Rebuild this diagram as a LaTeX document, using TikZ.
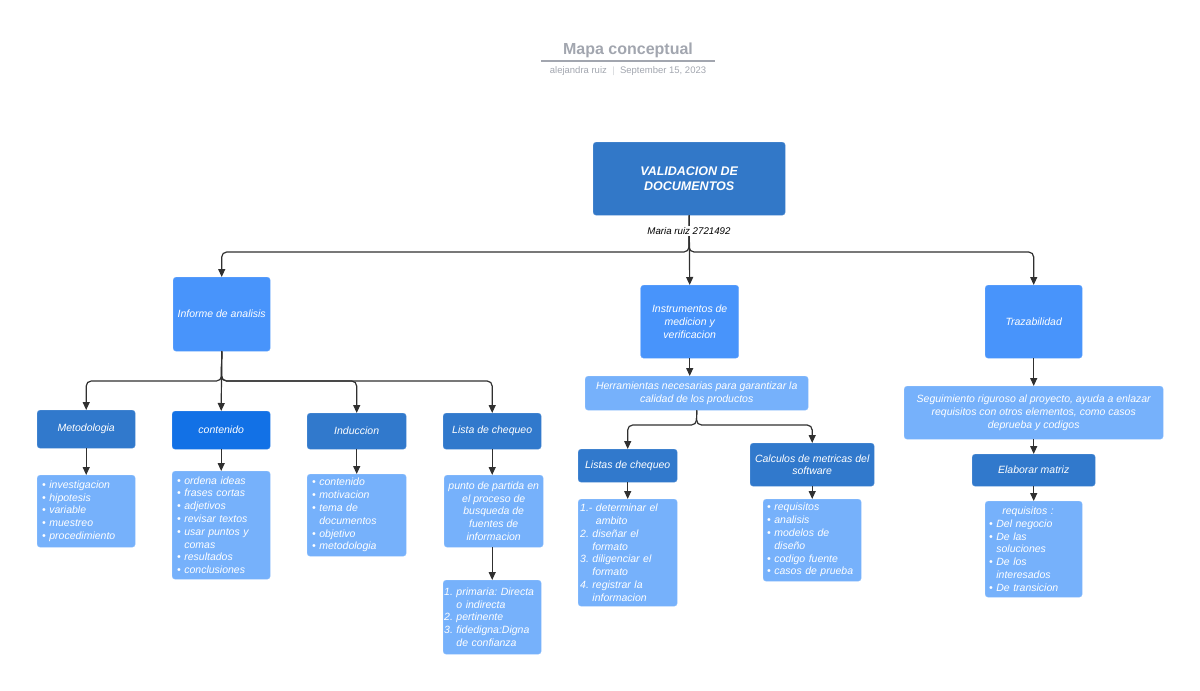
\documentclass[tikz,border=0pt]{standalone}
\usepackage{fontspec}
\setmainfont{Liberation Sans}
\usetikzlibrary{arrows.meta}
\definecolor{titlegray}{HTML}{A2A6AF}
\definecolor{mainblue}{HTML}{3278C8}
\definecolor{midblue}{HTML}{4894FB}
\definecolor{darkblue}{HTML}{3179CC}
\definecolor{strongblue}{HTML}{1271E6}
\definecolor{lightblue}{HTML}{76B1FB}
\definecolor{linecol}{HTML}{303030}
\hyphenpenalty=10000
\exhyphenpenalty=10000
\newcommand\bl{\textbullet\ }
\newcommand\ct{\phantom{\textbullet\ }}
\tikzset{
  box/.style={rounded corners=3pt, inner sep=2pt, anchor=north west, text=white,
    font=\fontsize{10.5}{12.8}\selectfont\itshape, align=center},
  bmain/.style={box, fill=mainblue, draw=mainblue!80!white, font=\fontsize{12.5}{15}\selectfont\bfseries\itshape},
  bmid/.style={box, fill=midblue, draw=midblue!80!white},
  bdark/.style={box, fill=darkblue, draw=darkblue!80!white},
  bstrong/.style={box, fill=strongblue, draw=strongblue!80!white},
  blight/.style={box, fill=lightblue, draw=lightblue!80!white},
  lst/.style={blight, align=left, inner xsep=5pt, text width=#1},
  conn/.style={draw=linecol, line width=1.2pt, rounded corners=5pt, -{Triangle[length=8pt,width=7pt]}},
}
\begin{document}
\frenchspacing
\begin{tikzpicture}[x=1pt,y=-1pt]
\useasboundingbox (0,0) rectangle (1200,691);
% title
\node[text=titlegray, font=\fontsize{16}{18}\selectfont\bfseries] (title) at (628,50) {Mapa conceptual};
\draw[titlegray, line width=1.2pt] (541,61) -- (715,61);
\node[text=titlegray, font=\fontsize{9.5}{11}\selectfont] (sub) at (628,71) {alejandra ruiz \ $|$ \ September 15, 2023};

% main
\node[bmain, minimum width=192pt, minimum height=73pt] (main) at (593,142) {VALIDACION DE\\DOCUMENTOS};

% level 1
\node[bmid, minimum width=97pt, minimum height=74pt] (inf) at (173,277) {Informe de analisis};
\node[bmid, minimum width=98pt, minimum height=73pt] (ins) at (640.5,285) {Instrumentos de\\medicion y\\verificacion};
\node[bmid, minimum width=97pt, minimum height=73pt] (tra) at (985,285) {Trazabilidad};

% level 2 left
\node[bdark, minimum width=98pt, minimum height=38pt] (met) at (37,410) {Metodologia};
\node[bstrong, minimum width=98pt, minimum height=38pt] (con) at (172,411) {contenido};
\node[bdark, minimum width=99pt, minimum height=36pt] (ind) at (307,413) {Induccion};
\node[bdark, minimum width=98pt, minimum height=36pt] (lis) at (443,413) {Lista de chequeo};

\node[lst=88pt, minimum height=72pt] (metl) at (37,475) {\bl investigacion\\\bl hipotesis\\\bl variable\\\bl muestreo\\\bl procedimiento};
\node[lst=88pt, minimum height=108pt] (conl) at (172,471) {\bl ordena ideas\\\bl frases cortas\\\bl adjetivos\\\bl revisar textos\\\bl usar puntos y\\\ct comas\\\bl resultados\\\bl conclusiones};
\node[lst=89pt, minimum height=82pt] (indl) at (307,474) {\bl contenido\\\bl motivacion\\\bl tema de\\\ct documentos\\\bl objetivo\\\bl metodologia};
\node[blight, minimum width=99pt, minimum height=72pt] (lisl) at (444,475) {punto de partida en\\el proceso de\\busqueda de\\fuentes de\\informacion};
\node[lst=96pt, inner xsep=1pt, minimum height=74pt] (lis2) at (443,580) {1. primaria: Directa\\\phantom{1. }o indirecta\\2. pertinente\\3. fidedigna:Digna\\\phantom{3. }de confianza};

% middle
\node[blight, minimum width=223pt, minimum height=34pt] (her) at (585,376) {Herramientas necesarias para garantizar la\\calidad de los productos};
\node[bdark, minimum width=99pt, minimum height=33pt] (lch) at (578,449) {Listas de chequeo};
\node[bdark, minimum width=124pt, minimum height=43pt] (cal) at (750,443) {Calculos de metricas del\\software};
\node[lst=95pt, inner xsep=2pt, minimum height=107pt] (lchl) at (578,499) {1.- determinar el\\\phantom{1.- }ambito\\2. diseñar el\\\phantom{2. }formato\\3. diligenciar el\\\phantom{3. }formato\\4. registrar la\\\phantom{4. }informacion};
\node[lst=90pt, inner xsep=4pt, minimum height=82pt] (call) at (763,499) {\bl requisitos\\\bl analisis\\\bl modelos de\\\ct diseño\\\bl codigo fuente\\\bl casos de prueba};

% right
\node[blight, minimum width=259pt, minimum height=53pt] (seg) at (904,386) {Seguimiento riguroso al proyecto, ayuda a enlazar\\requisitos con otros elementos, como casos\\deprueba y codigos};
\node[bdark, minimum width=123pt, minimum height=32pt] (ela) at (972,454) {Elaborar matriz};
\node[lst=89pt, inner xsep=4pt, minimum height=96pt] (req) at (985,501) {\ct\hspace{6pt}requisitos :\\\bl Del negocio\\\bl De las\\\ct soluciones\\\bl De los\\\ct interesados\\\bl De transicion};

% connectors
\draw[conn] (main.south) -- (689,252) -| (inf.north);
\draw[conn] (main.south) -- (ins.north);
\draw[conn] (main.south) -- (689,252) -| (tra.north);
\node[fill=white, inner sep=1pt, font=\fontsize{9.7}{11}\selectfont\itshape] (lbl) at (689,231) {Maria ruiz 2721492};

\draw[conn] (inf.south) -- (221.5,381) -| (met.north);
\draw[conn] (inf.south) -- (con.north);
\draw[conn] (inf.south) -- (221.5,381) -| (ind.north);
\draw[conn] (inf.south) -- (221.5,381) -| (lis.north);

\draw[conn] (met.south) -- (met.south |- metl.north);
\draw[conn] (con.south) -- (con.south |- conl.north);
\draw[conn] (ind.south) -- (ind.south |- indl.north);
\draw[conn] (lis.south) -- (lis.south |- lisl.north);
\draw[conn] (lisl.south -| lis.south) -- (lis.south |- lis2.north);

\draw[conn] (ins.south) -- (ins.south |- her.north);
\draw[conn] (her.south) -- (696.5,425) -| (lch.north);
\draw[conn] (her.south) -- (696.5,425) -| (cal.north);
\draw[conn] (lch.south) -- (lch.south |- lchl.north);
\draw[conn] (cal.south) -- (cal.south |- call.north);

\draw[conn] (tra.south) -- (tra.south |- seg.north);
\draw[conn] (seg.south) -- (seg.south |- ela.north);
\draw[conn] (ela.south) -- (ela.south |- req.north);
\end{tikzpicture}
\end{document}
